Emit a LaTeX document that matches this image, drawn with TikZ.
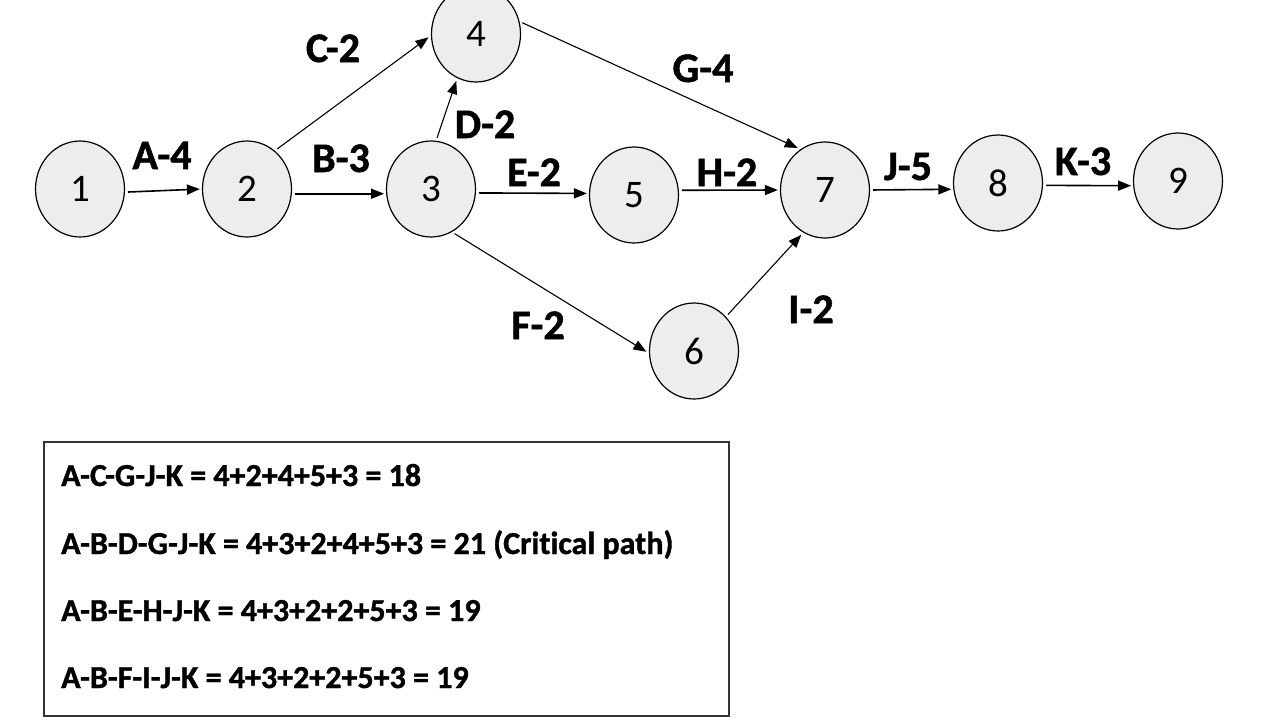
\documentclass[tikz,border=0pt]{standalone}
\usepackage{fontspec}
\setmainfont[Ligatures={NoCommon,NoDiscretionary,NoRare},RawFeature={-liga},BoldFeatures={FakeBold=1.2}]{Carlito}
\usetikzlibrary{arrows.meta,shapes.geometric}
\begin{document}
\begin{tikzpicture}[x=1pt,y=-1pt,
  ev/.style={ellipse,draw=black,line width=1.2pt,fill=black!7,minimum width=89pt,minimum height=96pt,inner sep=0pt,font=\fontsize{39}{42}\selectfont},
  actthick/.style={-{Triangle[length=13pt,width=10pt]},line width=1.6pt,shorten <=3pt,shorten >=2pt},
  actthin/.style={-{Triangle[length=13pt,width=10pt]},line width=1.1pt,shorten <=3pt,shorten >=3pt},
  lab/.style={anchor=base,inner sep=0pt,font=\bfseries\fontsize{42}{45}\selectfont},
  pathtxt/.style={anchor=base west,inner sep=0pt,font=\bfseries\fontsize{32}{35}\selectfont}]
\useasboundingbox (0,0) rectangle (1280,720);
\fill[white] (0,0) rectangle (1280,720);

% events
\node[ev] (n1) at (80,189) {1};
\node[ev] (n2) at (247,189) {2};
\node[ev] (n3) at (431,189) {3};
\node[ev] (n4) at (476,34) {4};
\node[ev] (n5) at (634,195) {5};
\node[ev] (n6) at (694,351) {6};
\node[ev] (n7) at (825,190) {7};
\node[ev] (n8) at (998,183) {8};
\node[ev] (n9) at (1178,181) {9};

% activities
\draw[actthick] (n1.-4) -- (n2.180);
\draw[actthick] (n2.-6) -- (n3.186);
\draw[actthin] (n2.54) -- (n4.182);
\draw[actthin] (n3.84) -- (n4.-113);
\draw[actthick] (n3.-5) -- (n5.178);
\draw[actthin] (n3.-64) -- (n6.183);
\draw[actthin] (n4.16) -- (n7.121);
\draw[actthick] (n5.6) -- (n7.180);
\draw[actthin] (n6.47) -- (n7.-117);
\draw[actthick] (n7.0) -- (n8.188);
\draw[actthick] (n8.-3) -- (n9.186);

% labels
\node[lab] (lA) at (162,169) {A-4};
\node[lab] (lB) at (341,172) {B-3};
\node[lab] (lC) at (333,62) {C-2};
\node[lab] (lD) at (485,138) {D-2};
\node[lab] (lE) at (534,186) {E-2};
\node[lab] (lF) at (538,339) {F-2};
\node[lab] (lG) at (703,82) {G-4};
\node[lab] (lH) at (727,186) {H-2};
\node[lab] (lI) at (811,323) {I-2};
\node[lab] (lJ) at (908,180) {J-5};
\node[lab] (lK) at (1083,175) {K-3};

% summary box
\draw[line width=1.8pt,draw=black!80] (44,442) rectangle (729,716);
\node[pathtxt] (p1) at (61,486) {A-C-G-J-K = 4+2+4+5+3 = 18};
\node[pathtxt] (p2) at (61,554) {A-B-D-G-J-K = 4+3+2+4+5+3 = 21 (Critical path)};
\node[pathtxt] (p3) at (61,621) {A-B-E-H-J-K = 4+3+2+2+5+3 = 19};
\node[pathtxt] (p4) at (61,688) {A-B-F-I-J-K = 4+3+2+2+5+3 = 19};
\end{tikzpicture}
\end{document}
